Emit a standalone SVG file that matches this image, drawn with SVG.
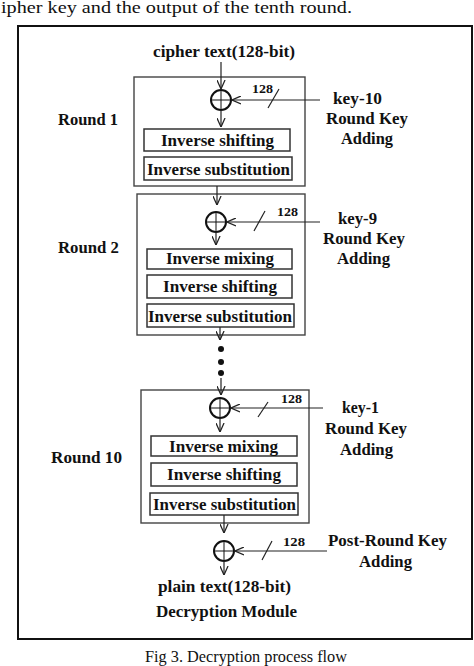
<svg xmlns="http://www.w3.org/2000/svg" width="474" height="666" viewBox="0 0 474 666">
<style>
.t{font-family:"Liberation Serif","Times New Roman",serif;font-weight:bold;font-size:16px;fill:#111}
.s{font-family:"Liberation Serif","Times New Roman",serif;font-weight:bold;font-size:13px;fill:#111}
.c{font-family:"Liberation Serif","Times New Roman",serif;font-size:17px;fill:#111}
.rb{fill:none;stroke:#444;stroke-width:1.4}
.ib{fill:none;stroke:#333;stroke-width:1.5}
.x{fill:none;stroke:#111;stroke-width:2}
.xl{stroke:#111;stroke-width:1}
.ln{fill:none;stroke:#222;stroke-width:1.2}
.a{fill:none;stroke:#222;stroke-width:1.2;marker-end:url(#ah)}
</style>
<defs>
<marker id="ah" viewBox="0 0 10 10" refX="10" refY="5" markerWidth="9" markerHeight="9" markerUnits="userSpaceOnUse" orient="auto">
<path d="M0,0.5 L10,5 L0,9.5" fill="none" stroke="#222" stroke-width="1.4"/>
</marker>
</defs>
<rect width="474" height="666" fill="#fff"/>
<text class="c" x="1" y="13" textLength="351" lengthAdjust="spacingAndGlyphs" style="font-size:16px">ipher key and the output of the tenth round.</text>
<rect id="frame" x="18" y="26" width="454" height="613" fill="none" stroke="#111" stroke-width="2"/>
<text class="c" x="145" y="662" textLength="202" lengthAdjust="spacingAndGlyphs">Fig 3. Decryption process flow</text>

<g id="input"><text class="t" x="153" y="57" textLength="142" lengthAdjust="spacingAndGlyphs">cipher text(128-bit)</text></g>

<g id="round1">
<rect class="rb" x="134" y="77" width="171" height="109"/>
<text class="t" x="58" y="125" textLength="60" lengthAdjust="spacingAndGlyphs">Round 1</text>
<circle class="x" cx="221" cy="100" r="10"/><line class="xl" x1="211" y1="100" x2="231" y2="100"/><line class="xl" x1="221" y1="90" x2="221" y2="110"/>
<rect class="ib" x="144" y="129" width="146" height="22"/>
<text class="t" x="161" y="146" textLength="113" lengthAdjust="spacingAndGlyphs">Inverse shifting</text>
<rect class="ib" x="144" y="157" width="148" height="23"/>
<text class="t" x="147" y="175" textLength="143" lengthAdjust="spacingAndGlyphs">Inverse substitution</text>
</g>
<g id="key10">
<text class="s" x="252" y="93" textLength="21" lengthAdjust="spacingAndGlyphs">128</text>
<text class="t" x="333" y="104" textLength="49" lengthAdjust="spacingAndGlyphs">key-10</text>
<text class="t" x="326" y="124" textLength="82" lengthAdjust="spacingAndGlyphs">Round Key</text>
<text class="t" x="341" y="144" textLength="52" lengthAdjust="spacingAndGlyphs">Adding</text>
</g>

<g id="round2">
<rect class="rb" x="137" y="194" width="168" height="141"/>
<text class="t" x="58" y="253" textLength="61" lengthAdjust="spacingAndGlyphs">Round 2</text>
<circle class="x" cx="216" cy="222" r="10"/><line class="xl" x1="206" y1="222" x2="226" y2="222"/><line class="xl" x1="216" y1="212" x2="216" y2="232"/>
<rect class="ib" x="147" y="249" width="145" height="20"/>
<text class="t" x="166" y="264" textLength="108" lengthAdjust="spacingAndGlyphs">Inverse mixing</text>
<rect class="ib" x="147" y="275" width="145" height="23"/>
<text class="t" x="163" y="292" textLength="114" lengthAdjust="spacingAndGlyphs">Inverse shifting</text>
<rect class="ib" x="147" y="304" width="147" height="23"/>
<text class="t" x="148" y="322" textLength="144" lengthAdjust="spacingAndGlyphs">Inverse substitution</text>
</g>
<g id="key9">
<text class="s" x="277" y="216" textLength="21" lengthAdjust="spacingAndGlyphs">128</text>
<text class="t" x="338" y="224" textLength="39" lengthAdjust="spacingAndGlyphs">key-9</text>
<text class="t" x="323" y="244" textLength="82" lengthAdjust="spacingAndGlyphs">Round Key</text>
<text class="t" x="337" y="264" textLength="53" lengthAdjust="spacingAndGlyphs">Adding</text>
</g>

<g id="ellipsis">
<circle cx="221" cy="349" r="3" fill="#111"/>
<circle cx="221" cy="362" r="3" fill="#111"/>
<circle cx="221" cy="373" r="3" fill="#111"/>
</g>

<g id="round10">
<rect class="rb" x="141" y="390" width="168" height="133"/>
<text class="t" x="51" y="463" textLength="71" lengthAdjust="spacingAndGlyphs">Round 10</text>
<circle class="x" cx="220" cy="408" r="10"/><line class="xl" x1="210" y1="408" x2="230" y2="408"/><line class="xl" x1="220" y1="398" x2="220" y2="418"/>
<rect class="ib" x="151" y="436" width="146" height="20"/>
<text class="t" x="169" y="452" textLength="109" lengthAdjust="spacingAndGlyphs">Inverse mixing</text>
<rect class="ib" x="151" y="463" width="146" height="23"/>
<text class="t" x="167" y="480" textLength="114" lengthAdjust="spacingAndGlyphs">Inverse shifting</text>
<rect class="ib" x="150" y="493" width="148" height="22"/>
<text class="t" x="153" y="510" textLength="143" lengthAdjust="spacingAndGlyphs">Inverse substitution</text>
</g>
<g id="key1">
<text class="s" x="281" y="403" textLength="21" lengthAdjust="spacingAndGlyphs">128</text>
<text class="t" x="342" y="413" textLength="37" lengthAdjust="spacingAndGlyphs">key-1</text>
<text class="t" x="325" y="434" textLength="82" lengthAdjust="spacingAndGlyphs">Round Key</text>
<text class="t" x="340" y="455" textLength="53" lengthAdjust="spacingAndGlyphs">Adding</text>
</g>

<g id="postround">
<circle class="x" cx="224" cy="551" r="10"/><line class="xl" x1="214" y1="551" x2="234" y2="551"/><line class="xl" x1="224" y1="541" x2="224" y2="561"/>
<text class="s" x="283" y="546" textLength="22" lengthAdjust="spacingAndGlyphs">128</text>
<text class="t" x="328" y="546" textLength="119" lengthAdjust="spacingAndGlyphs">Post-Round Key</text>
<text class="t" x="359" y="567" textLength="53" lengthAdjust="spacingAndGlyphs">Adding</text>
</g>

<g id="output">
<text class="t" x="158" y="592" textLength="133" lengthAdjust="spacingAndGlyphs">plain text(128-bit)</text>
<text class="t" x="156" y="617" textLength="141" lengthAdjust="spacingAndGlyphs">Decryption Module</text>
</g>

<g id="connectors">
<line class="a" x1="221" y1="62" x2="221" y2="89"/>
<line class="a" x1="221" y1="110" x2="221" y2="127"/>
<line class="a" x1="320" y1="100" x2="232" y2="100"/>
<line class="ln" x1="268" y1="108" x2="279" y2="89"/>
<line class="a" x1="217" y1="186" x2="217" y2="205"/>
<line class="a" x1="216" y1="232" x2="216" y2="245"/>
<line class="a" x1="320" y1="222" x2="227" y2="222"/>
<line class="ln" x1="254" y1="231" x2="265" y2="211"/>
<line class="a" x1="220" y1="327" x2="220" y2="340"/>
<line class="a" x1="221" y1="378" x2="221" y2="395"/>
<line class="a" x1="220" y1="418" x2="220" y2="432"/>
<line class="a" x1="323" y1="408" x2="231" y2="408"/>
<line class="ln" x1="258" y1="417" x2="268" y2="402"/>
<line class="a" x1="224" y1="515" x2="224" y2="533"/>
<line class="a" x1="327" y1="551" x2="235" y2="551"/>
<line class="ln" x1="262" y1="560" x2="272" y2="541"/>
<line class="a" x1="224" y1="561" x2="224" y2="575"/>
</g>
</svg>
